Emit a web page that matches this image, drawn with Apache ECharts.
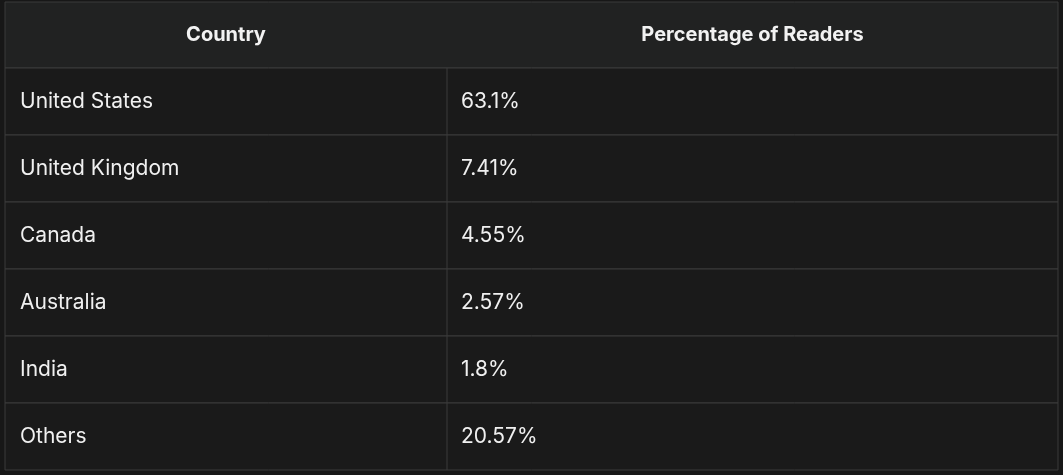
<!DOCTYPE html>
<html lang="en">
<head>
<meta charset="UTF-8">
<title>Readers by Country</title>
<script src="https://cdn.jsdelivr.net/npm/echarts@6/dist/echarts.min.js"></script>
<style>html,body{margin:0;background:#171717;}#main{width:1063px;height:475px;}</style>
</head>
<body>
<div id="main"></div>
<script>
var headers = ['Country', 'Percentage of Readers'];
var countries = ['United States', 'United Kingdom', 'Canada', 'Australia', 'India', 'Others'];
var percents = ['63.1%', '7.41%', '4.55%', '2.57%', '1.8%', '20.57%'];

var left = 5, right = 1058, top0 = 2, headH = 66, rowH = 67, colX = 447;
var line = '#3a3a3a';
var els = [];
// header
els.push({type: 'rect', shape: {x: left, y: top0, width: right - left, height: headH},
    style: {fill: '#212222', stroke: line, lineWidth: 1}});
var colCenters = [(left + colX) / 2, (colX + right) / 2];
headers.forEach(function (h, i) {
    els.push({type: 'text', x: colCenters[i], y: top0 + headH / 2,
        style: {text: h, fill: '#f2f2f2', font: 'bold 20px Inter, "Noto Sans", sans-serif',
            align: 'center', verticalAlign: 'middle'}});
});
// body rows
countries.forEach(function (c, i) {
    var y = top0 + headH + i * rowH;
    els.push({type: 'rect', shape: {x: left, y: y, width: right - left, height: rowH},
        style: {fill: '#1a1a1a', stroke: line, lineWidth: 1}});
    els.push({type: 'line', shape: {x1: colX, y1: y, x2: colX, y2: y + rowH},
        style: {stroke: line, lineWidth: 1}});
    els.push({type: 'text', x: 20, y: y + rowH / 2,
        style: {text: c, fill: '#f0f0f0', font: '21px Inter, "Noto Sans", sans-serif', verticalAlign: 'middle'}});
    els.push({type: 'text', x: colX + 14, y: y + rowH / 2,
        style: {text: percents[i], fill: '#f0f0f0', font: '21px Inter, "Noto Sans", sans-serif', verticalAlign: 'middle'}});
});

var chart = echarts.init(document.getElementById('main'));
chart.setOption({backgroundColor: '#171717', graphic: {elements: els}});
</script>
</body>
</html>
